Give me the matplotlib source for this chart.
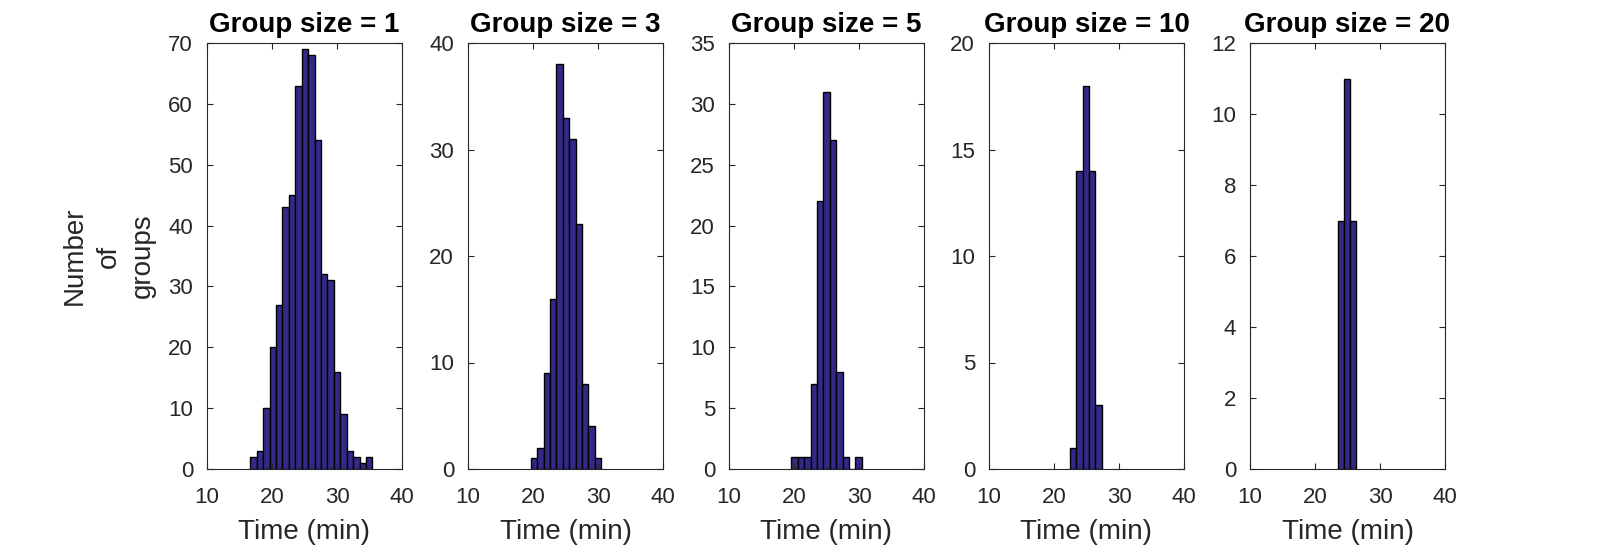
import numpy as np
import matplotlib
matplotlib.use("Agg")
import matplotlib.pyplot as plt

plt.rcParams['font.family'] = ['Liberation Sans', 'DejaVu Sans']

# Histogram data
group_sizes = [1, 3, 5, 10, 20]
bin_start = [16.67, 19.69, 19.59, 22.46, 23.49]
bin_width = [0.988, 0.979, 0.984, 0.974, 0.957]
counts_1 = [2, 3, 10, 20, 27, 43, 45, 63, 69, 68, 54, 32, 31, 16, 9, 3, 2, 1, 2]
counts_3 = [1, 2, 9, 16, 38, 33, 31, 23, 8, 4, 1]
counts_5 = [1, 1, 1, 7, 22, 31, 27, 8, 1, 0, 1]
counts_10 = [1, 14, 18, 14, 3]
counts_20 = [7, 11, 7]
all_counts = [counts_1, counts_3, counts_5, counts_10, counts_20]

y_max = [70, 40, 35, 20, 12]
y_step = [10, 10, 5, 5, 2]
x_ticks = [10, 20, 30, 40]

bar_color = '#332a88'
text_color = '#262626'

fig = plt.figure(figsize=(16, 5.51), dpi=100)

# axes placement in pixels
W, H = 1600, 551
lefts = [207, 468, 729, 989, 1250]
ax_w, ax_top, ax_bot = 195, 43, 469

for i, gs in enumerate(group_sizes):
    ax = fig.add_axes([lefts[i] / W, (H - ax_bot) / H, ax_w / W, (ax_bot - ax_top) / H])
    counts = np.array(all_counts[i])
    edges = bin_start[i] + bin_width[i] * np.arange(len(counts))
    ax.bar(edges, counts, width=bin_width[i], align='edge',
           color=bar_color, edgecolor='black', linewidth=1.0)
    ax.set_xlim(10, 40)
    ax.set_ylim(0, y_max[i])
    ax.set_xticks(x_ticks)
    ax.set_yticks(np.arange(0, y_max[i] + 1, y_step[i]))
    ax.tick_params(direction='in', top=True, right=True, length=4,
                   labelsize=16, colors=text_color, width=0.8)
    ax.tick_params(axis='x', pad=13)
    ax.tick_params(axis='y', pad=10)
    for sp in ax.spines.values():
        sp.set_color(text_color)
        sp.set_linewidth(0.8)
    ax.set_title(f'Group size = {gs}', fontsize=20, fontweight='bold', pad=8)
    ax.set_xlabel('Time (min)', fontsize=20, color=text_color, labelpad=8)
    if i == 0:
        ax.set_ylabel('Number\nof\ngroups', fontsize=20, color=text_color,
                      linespacing=1.4, va='center', ha='center')
        ax.yaxis.set_label_coords(-(207 - 108.5) / ax_w, 0.5)

fig.savefig('out.png', dpi=100)
